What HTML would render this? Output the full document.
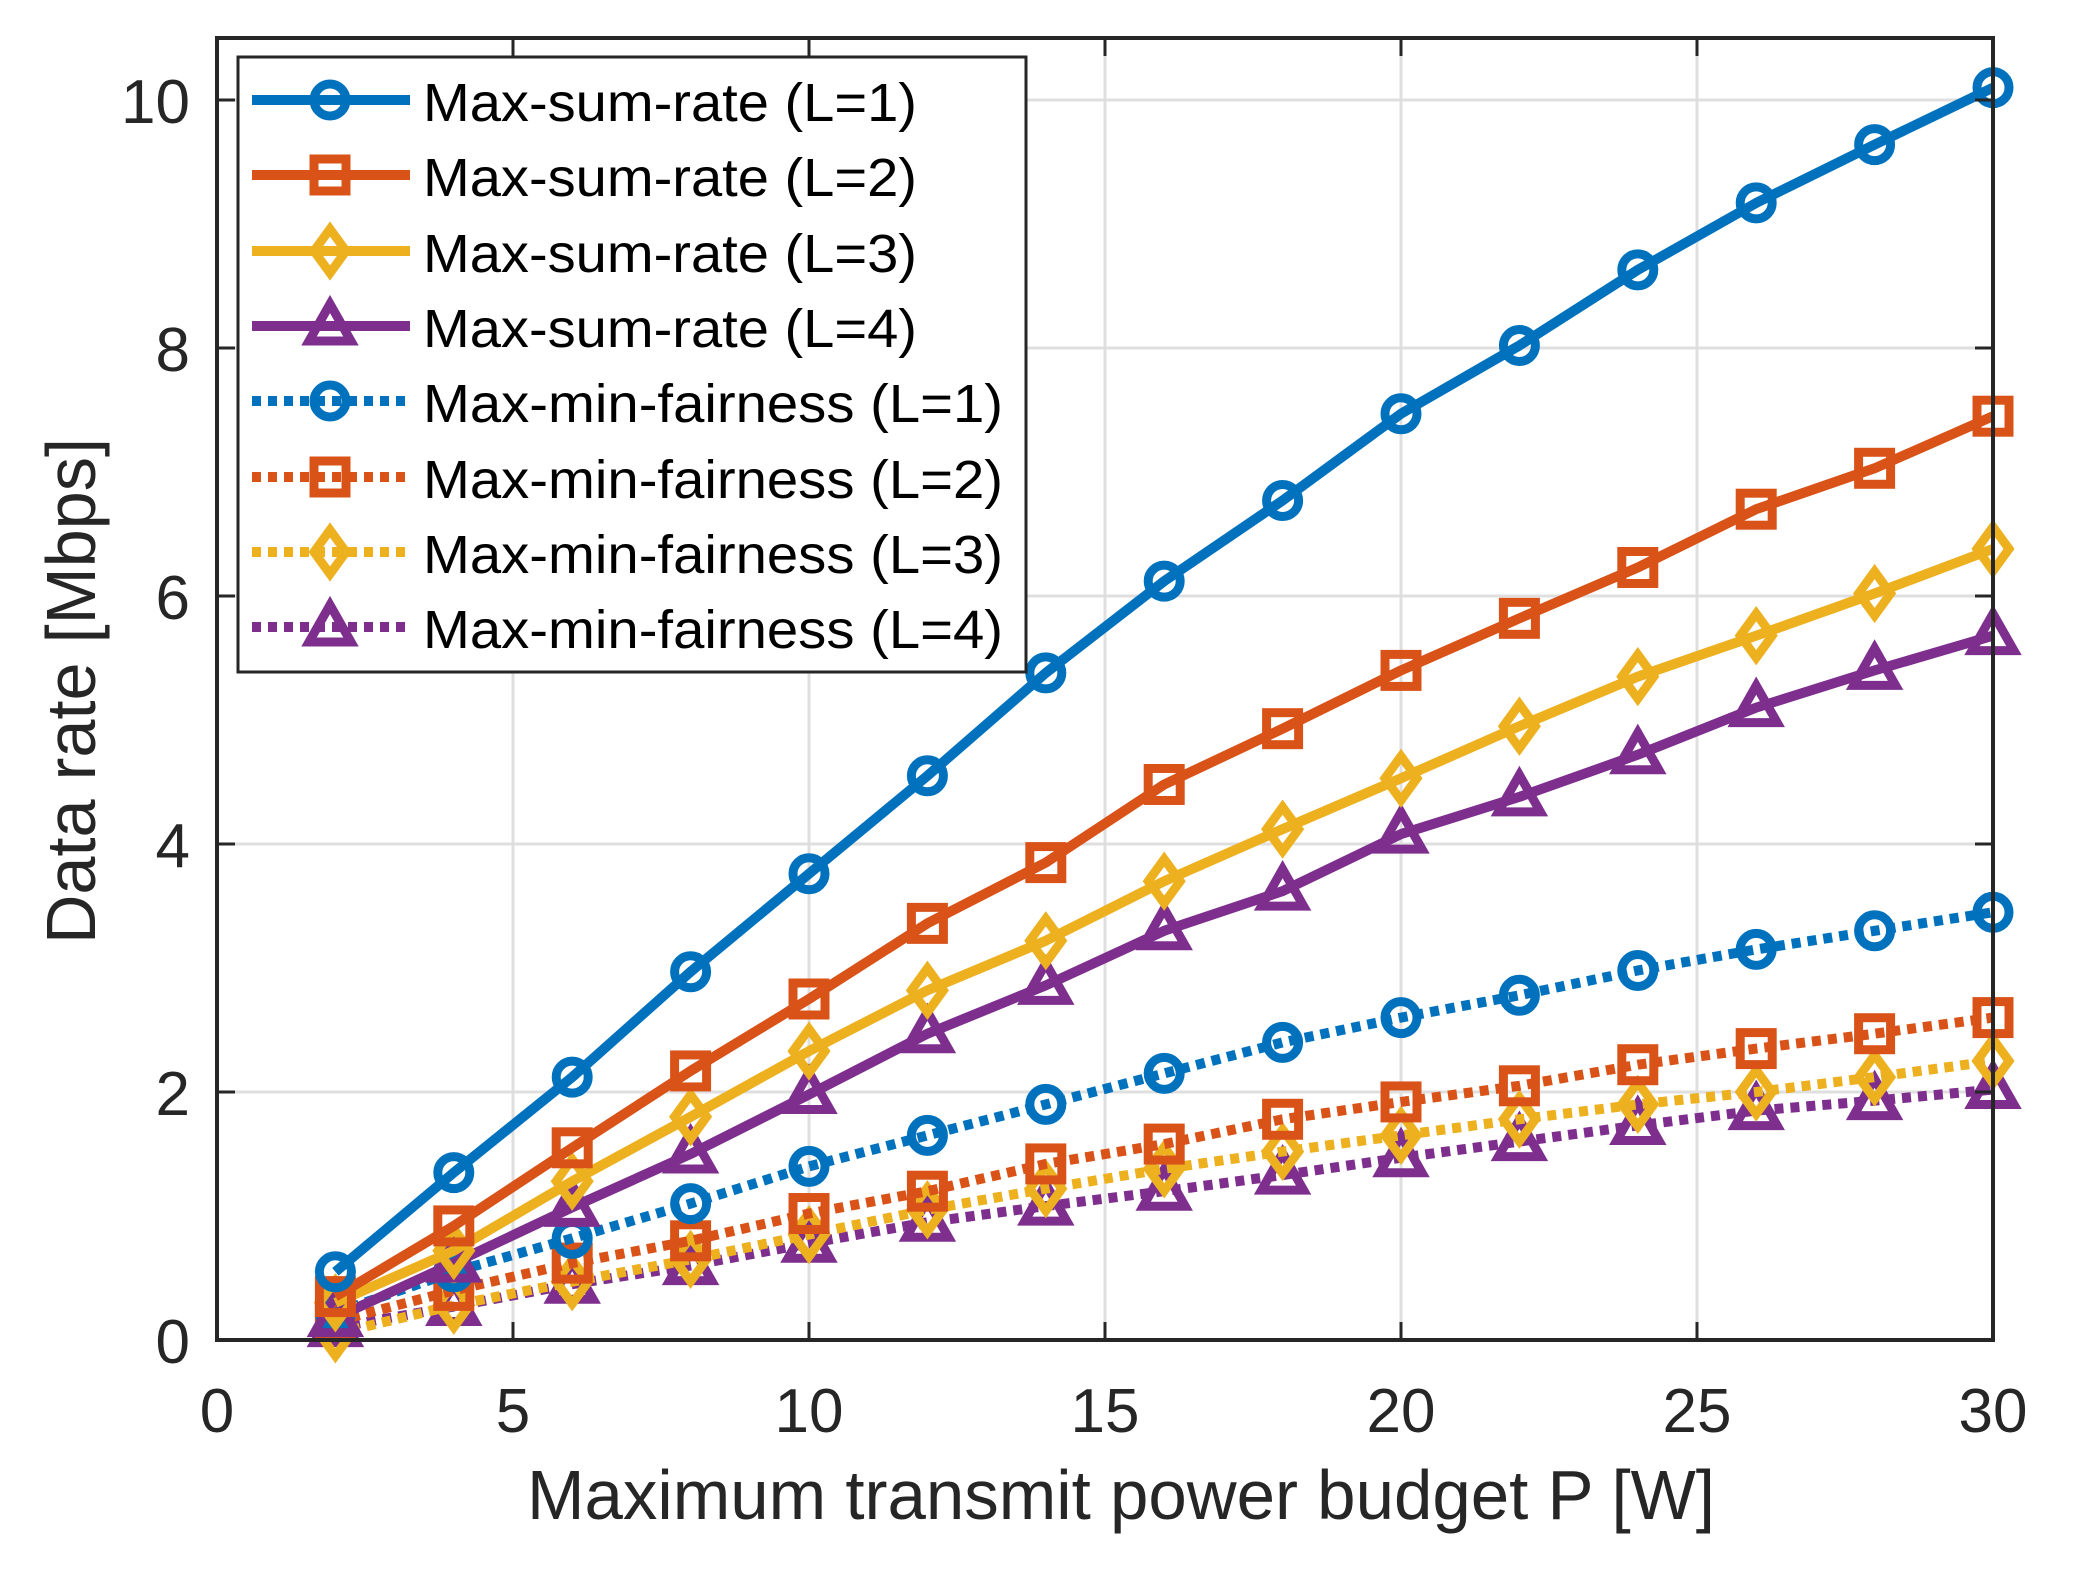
<!DOCTYPE html>
<html><head><meta charset="utf-8"><style>
html,body{margin:0;padding:0;background:#fff;}
svg{display:block;font-family:"Liberation Sans",Arial,sans-serif;}
</style></head><body>
<svg id="s" width="2085" height="1570" viewBox="0 0 2085 1570" xmlns="http://www.w3.org/2000/svg">
<rect width="2085" height="1570" fill="#fff"/>
<g id="grid" stroke="#dfdfdf" stroke-width="3"></g>
<g id="data"></g>
<g fill="none" stroke="#262626" stroke-width="4">
<rect x="217" y="38" width="1776" height="1302"/>
</g>
<g id="ticks" stroke="#262626" stroke-width="3"></g>
<g fill="#262626" font-size="62" text-anchor="middle">
<text x="217" y="1432">0</text>
<text x="513" y="1432">5</text>
<text x="809" y="1432">10</text>
<text x="1105" y="1432">15</text>
<text x="1401" y="1432">20</text>
<text x="1697" y="1432">25</text>
<text x="1993" y="1432">30</text>
</g>
<g fill="#262626" font-size="62" text-anchor="end">
<text x="190" y="1363">0</text>
<text x="190" y="1115">2</text>
<text x="190" y="867">4</text>
<text x="190" y="619">6</text>
<text x="190" y="371">8</text>
<text x="190" y="123">10</text>
</g>
<text x="1121" y="1519" font-size="70" fill="#262626" text-anchor="middle" textLength="1188" lengthAdjust="spacingAndGlyphs">Maximum transmit power budget P [W]</text>
<text transform="translate(95,691) rotate(-90)" font-size="70" fill="#262626" text-anchor="middle" textLength="506" lengthAdjust="spacingAndGlyphs">Data rate [Mbps]</text>
<rect x="238" y="57" width="788" height="615" fill="#fff" stroke="#262626" stroke-width="3"/>
<g id="leg"></g>
<g font-size="54" fill="#000">
<text x="423" y="121" textLength="494" lengthAdjust="spacingAndGlyphs">Max-sum-rate (L=1)</text>
<text x="423" y="196" textLength="494" lengthAdjust="spacingAndGlyphs">Max-sum-rate (L=2)</text>
<text x="423" y="272" textLength="494" lengthAdjust="spacingAndGlyphs">Max-sum-rate (L=3)</text>
<text x="423" y="347" textLength="494" lengthAdjust="spacingAndGlyphs">Max-sum-rate (L=4)</text>
<text x="423" y="422" textLength="580" lengthAdjust="spacingAndGlyphs">Max-min-fairness (L=1)</text>
<text x="423" y="498" textLength="580" lengthAdjust="spacingAndGlyphs">Max-min-fairness (L=2)</text>
<text x="423" y="573" textLength="580" lengthAdjust="spacingAndGlyphs">Max-min-fairness (L=3)</text>
<text x="423" y="648" textLength="580" lengthAdjust="spacingAndGlyphs">Max-min-fairness (L=4)</text>
</g>
</svg>
<script>
var NS="http://www.w3.org/2000/svg";
function X(v){return 217+v*59.2;}function Y(v){return 1340-v*124;}
function el(p,t,a){var e=document.createElementNS(NS,t);for(var k in a)e.setAttribute(k,a[k]);p.appendChild(e);return e;}
var g=document.getElementById('grid'),tk=document.getElementById('ticks');
for(var i=1;i<6;i++){var x=X(i*5);el(g,'line',{x1:x,x2:x,y1:38,y2:1340});el(tk,'line',{x1:x,x2:x,y1:1340,y2:1322});el(tk,'line',{x1:x,x2:x,y1:38,y2:56});}
for(var j=1;j<=5;j++){var y=Y(j*2);el(g,'line',{x1:217,x2:1993,y1:y,y2:y});el(tk,'line',{x1:217,x2:235,y1:y,y2:y});el(tk,'line',{x1:1993,x2:1975,y1:y,y2:y});}
var C=['#0072BD','#D95319','#EDB120','#7E2F8E'],M=['o','s','d','t'];
var D=[
[0.55,1.35,2.12,2.97,3.76,4.55,5.38,6.12,6.77,7.47,8.02,8.63,9.17,9.64,10.1],
[0.35,0.92,1.55,2.17,2.75,3.36,3.85,4.48,4.93,5.40,5.82,6.23,6.70,7.03,7.45],
[0.3,0.72,1.28,1.80,2.33,2.82,3.22,3.70,4.12,4.53,4.95,5.35,5.68,6.02,6.38],
[0.18,0.62,1.07,1.50,1.98,2.47,2.86,3.30,3.62,4.08,4.38,4.72,5.10,5.40,5.68],
[0.22,0.55,0.82,1.10,1.40,1.65,1.90,2.15,2.40,2.60,2.78,2.98,3.15,3.30,3.45],
[0.15,0.40,0.62,0.80,1.02,1.20,1.42,1.58,1.78,1.92,2.05,2.22,2.35,2.47,2.60],
[0.05,0.28,0.47,0.65,0.85,1.05,1.22,1.38,1.52,1.65,1.78,1.90,2.0,2.12,2.25],
[0.10,0.27,0.45,0.60,0.78,0.95,1.08,1.20,1.33,1.47,1.60,1.73,1.85,1.93,2.02]];
function marker(p,m,x,y,c){
 var a={fill:'none',stroke:c,'stroke-width':9};
 if(m=='o'){a.cx=x;a.cy=y;a.r=16;el(p,'circle',a);}
 else if(m=='s'){a.x=x-16;a.y=y-16;a.width=32;a.height=32;el(p,'rect',a);}
 else if(m=='d'){a.points=[x,y-22,x+16,y,x,y+22,x-16,y].join(' ');el(p,'polygon',a);}
 else {a.points=[x,y-22,x+21,y+15,x-21,y+15].join(' ');el(p,'polygon',a);}
}
var dg=document.getElementById('data');
for(var s=7;s>=0;s--){var k=s%4,c=C[k],pts=[];
 for(var i=0;i<15;i++)pts.push(X(2+2*i)+','+Y(D[s][i]));
 var a={points:pts.join(' '),fill:'none',stroke:c,'stroke-width':10,'stroke-linejoin':'round'};
 if(s>=4)a['stroke-dasharray']='9 7';
 el(dg,'polyline',a);
 for(var i=0;i<15;i++)marker(dg,M[k],X(2+2*i),Y(D[s][i]),c);
}
var lg=document.getElementById('leg');
var rows=[100,175,251,326,401,477,552,627];
for(var s=0;s<8;s++){var k=s%4,c=C[k],y=rows[s];
 var a={x1:252,x2:410,y1:y,y2:y,stroke:c,'stroke-width':10};
 if(s>=4)a['stroke-dasharray']='9 7';
 el(lg,'line',a);marker(lg,M[k],330,y,c);}
</script>
</body></html>
